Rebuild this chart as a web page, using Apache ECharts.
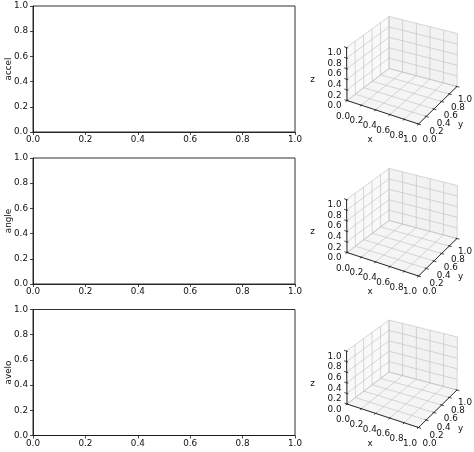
<!DOCTYPE html>
<html>
<head>
<meta charset="utf-8">
<script src="https://cdn.jsdelivr.net/npm/echarts@6/dist/echarts.min.js"></script>
<style>
html,body{margin:0;padding:0;background:#fff;}
#chart{width:474px;height:452px;}
</style>
</head>
<body>
<div id="chart"></div>
<script>
// ---- data ----
const panelNames = ['accel', 'angle', 'avelo'];
const xTicks2d = [0.0, 0.2, 0.4, 0.6, 0.8, 1.0];
const yTicks2d = [0.0, 0.2, 0.4, 0.6, 0.8, 1.0];
const ticks3d = [0.0, 0.2, 0.4, 0.6, 0.8, 1.0];
const axisNames3d = ['x', 'y', 'z'];

// ---- layout ----
const FONT = 'DejaVu Sans';
const FS = 8.8;
const gridTops = [6, 158, 309.5];
const panelDy = [0, 152, 303.5];
// projected corner positions of the 3D box (panel 1), keyed by [x][y][z]
const corners = {
  '000': [347, 100.5], '100': [418.5, 124], '110': [457, 86.5], '010': [389, 68.5],
  '001': [346.5, 47.5], '101': [418.5, 70.5], '111': [457.5, 33.5], '011': [389, 16.5]
};

function proj(x, y, z, dy) {
  let px = 0, py = 0;
  for (const i of [0, 1]) for (const j of [0, 1]) for (const k of [0, 1]) {
    const w = (i ? x : 1 - x) * (j ? y : 1 - y) * (k ? z : 1 - z);
    const c = corners['' + i + j + k];
    px += w * c[0]; py += w * c[1];
  }
  return [px, py + dy];
}

const grids = [], xAxes = [], yAxes = [], series = [];
panelNames.forEach((name, i) => {
  grids.push({ left: 33, top: gridTops[i], width: 262, height: 126, show: true,
    containLabel: false, outerBoundsMode: 'none',
    borderColor: '#1a1a1a', borderWidth: 0.9, backgroundColor: '#fff' });
  xAxes.push({ type: 'value', gridIndex: i, min: xTicks2d[0], max: xTicks2d[xTicks2d.length - 1],
    interval: xTicks2d[1] - xTicks2d[0],
    axisLine: { show: true, onZero: false, lineStyle: { color: '#1a1a1a', width: 0.9 } },
    axisTick: { show: true, length: 3, lineStyle: { color: '#1a1a1a', width: 0.8 } },
    splitLine: { show: false },
    axisLabel: { show: true, margin: 3.5, color: '#111', fontSize: FS, fontFamily: FONT,
      showMinLabel: true, showMaxLabel: true, formatter: v => v.toFixed(1) } });
  yAxes.push({ type: 'value', gridIndex: i, min: yTicks2d[0], max: yTicks2d[yTicks2d.length - 1],
    interval: yTicks2d[1] - yTicks2d[0],
    name: name, nameLocation: 'middle', nameGap: 19.5, nameMoveOverlap: false,
    nameTextStyle: { color: '#111', fontSize: FS, fontFamily: FONT },
    axisLine: { show: true, onZero: false, lineStyle: { color: '#1a1a1a', width: 0.9 } },
    axisTick: { show: true, length: 3, lineStyle: { color: '#1a1a1a', width: 0.8 } },
    splitLine: { show: false },
    axisLabel: { show: true, margin: 5, color: '#111', fontSize: FS, fontFamily: FONT,
      showMinLabel: true, showMaxLabel: true, formatter: v => v.toFixed(1) } });
  series.push({ type: 'line', xAxisIndex: i, yAxisIndex: i, data: [] });
});

function render3d(params, api) {
  const dy = panelDy[api.value(0)];
  const P = (x, y, z) => proj(x, y, z, dy);
  const children = [];
  const poly = (pts, fill) => children.push({ type: 'polygon', shape: { points: pts }, style: { fill: fill, stroke: null } });
  const line = (a, b, stroke, w) => children.push({ type: 'line', shape: { x1: a[0], y1: a[1], x2: b[0], y2: b[1] }, style: { stroke: stroke, lineWidth: w } });
  const text = (t, p) => children.push({ type: 'text', style: { text: t, x: p[0], y: p[1], align: 'center', verticalAlign: 'middle', fill: '#111', fontSize: FS, fontFamily: FONT } });
  const t0 = ticks3d[0], t1 = ticks3d[ticks3d.length - 1];
  // panes
  poly([P(t0, t0, t0), P(t0, t1, t0), P(t0, t1, t1), P(t0, t0, t1)], '#f9f9f9'); // x = 0 pane
  poly([P(t0, t1, t0), P(t1, t1, t0), P(t1, t1, t1), P(t0, t1, t1)], '#f2f2f2'); // y = 1 pane
  poly([P(t0, t0, t0), P(t1, t0, t0), P(t1, t1, t0), P(t0, t1, t0)], '#f5f5f5'); // z = 0 pane
  const gc = '#bdbdbd', gw = 0.6;
  ticks3d.forEach(t => {
    line(P(t0, t, t0), P(t0, t, t1), gc, gw);
    line(P(t0, t0, t), P(t0, t1, t), gc, gw);
    line(P(t, t1, t0), P(t, t1, t1), gc, gw);
    line(P(t0, t1, t), P(t1, t1, t), gc, gw);
    line(P(t, t0, t0), P(t, t1, t0), gc, gw);
    line(P(t0, t, t0), P(t1, t, t0), gc, gw);
  });
  // axis lines
  const ac = '#1a1a1a';
  line(P(t0, t0, t0), P(t1, t0, t0), ac, 0.9);
  line(P(t1, t0, t0), P(t1, t1, t0), ac, 0.9);
  line(P(t0, t0, t0), P(t0, t0, t1), ac, 0.9);
  ticks3d.forEach(t => {
    line(P(t, 0.02, t0), P(t, -0.035, t0), ac, 0.8);
    line(P(t1 - 0.02, t, t0), P(t1 + 0.035, t, t0), ac, 0.8);
    line(P(0.02, t0, t), P(-0.035, t0, t), ac, 0.8);
    const f = (t - t0) / (t1 - t0);
    const px = P(t, t0, t0); text(t.toFixed(1), [px[0] - 4 - 4.5 * f, px[1] + 16]);
    const py = P(t1, t, t0); text(t.toFixed(1), [py[0] + 11 - 3 * f, py[1] + 16 - 3.2 * f]);
    const pz = P(t0, t0, t); text(t.toFixed(1), [334.5, pz[1] + 5.5]);
  });
  text(axisNames3d[0], [370, 140 + dy]);
  text(axisNames3d[1], [460.5, 125 + dy]);
  text(axisNames3d[2], [312.5, 80 + dy]);
  return { type: 'group', children: children };
}

series.push({ type: 'custom', coordinateSystem: 'none', silent: true, animation: false,
  data: panelNames.map((n, i) => [i]), renderItem: render3d });

const chart = echarts.init(document.getElementById('chart'), null, { renderer: 'canvas' });
chart.setOption({ animation: false, backgroundColor: '#fff', grid: grids, xAxis: xAxes, yAxis: yAxes, series: series });
</script>
</body>
</html>
